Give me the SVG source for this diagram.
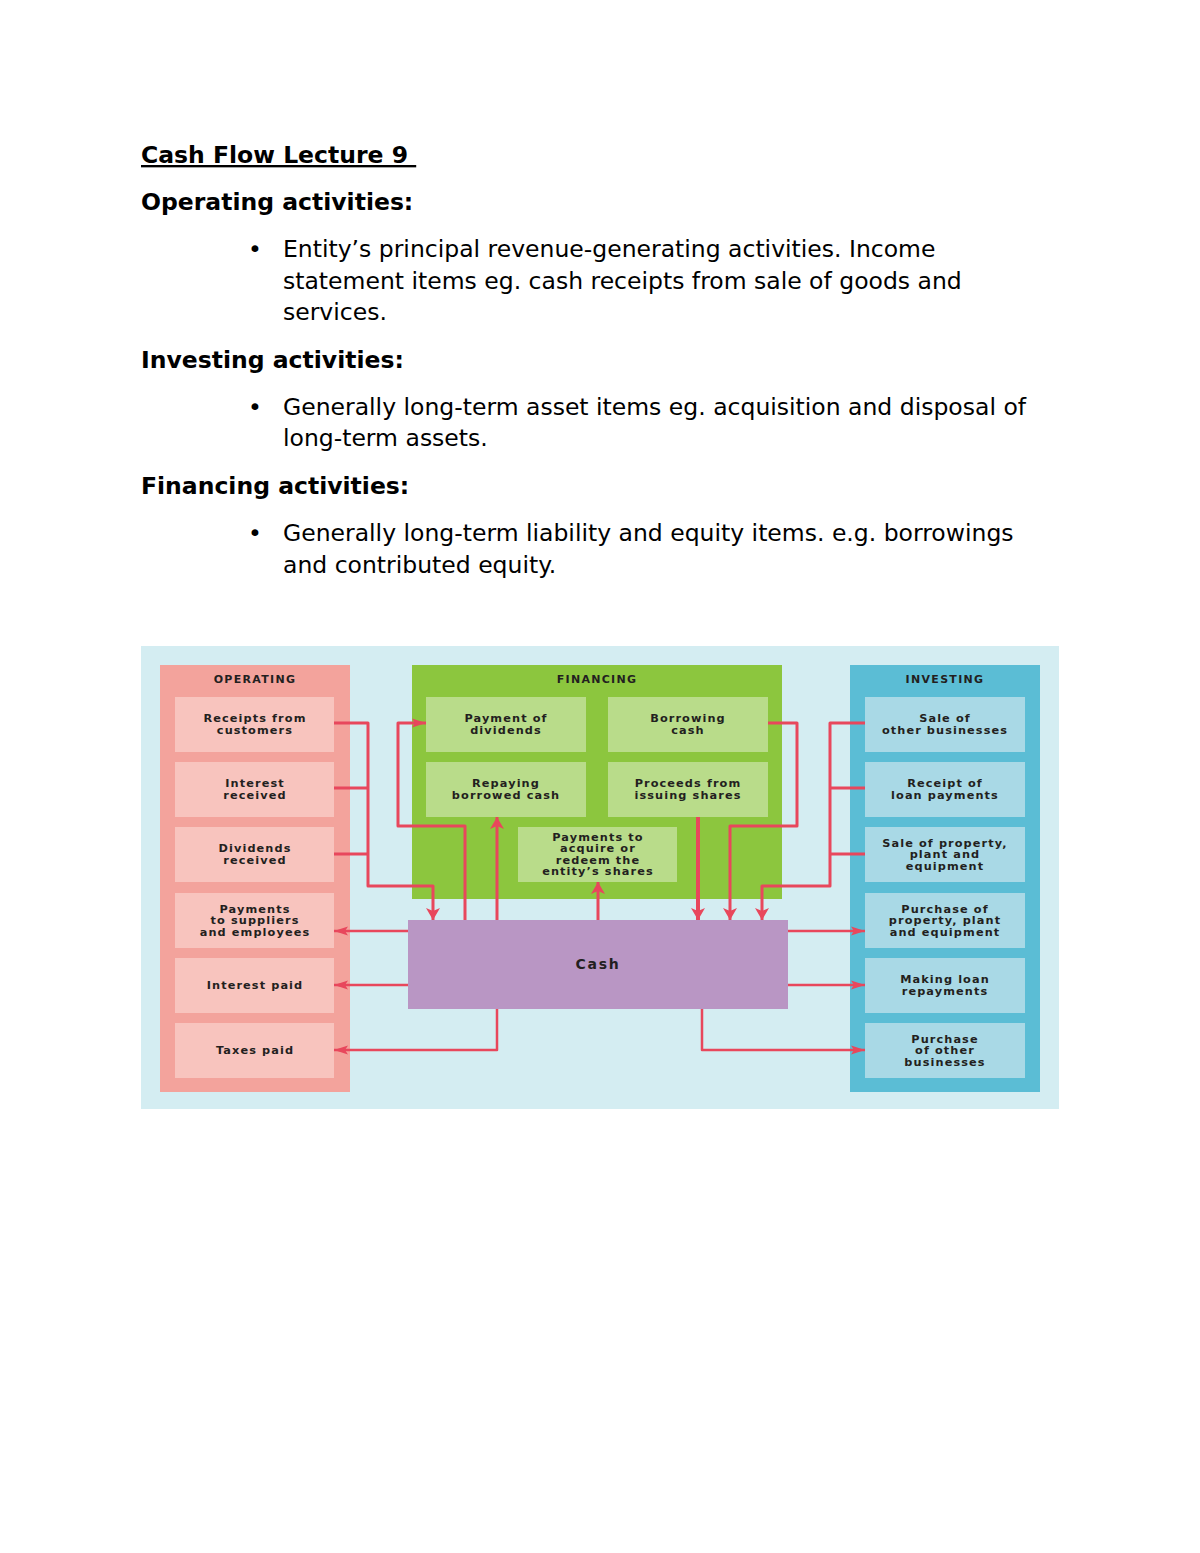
<svg xmlns="http://www.w3.org/2000/svg" width="1200" height="1553" viewBox="0 0 1200 1553">
<style>
.doc{font-family:"DejaVu Sans","Verdana",sans-serif;font-size:23.5px;fill:#000}
.b{font-weight:bold}
.lbl{font-family:"DejaVu Sans",sans-serif;font-weight:bold;font-size:11.3px;letter-spacing:1.1px;fill:#231f20;text-anchor:middle}
.ttl{font-family:"DejaVu Sans",sans-serif;font-weight:bold;font-size:11px;letter-spacing:1.3px;fill:#231f20;text-anchor:middle}
.cash{font-family:"DejaVu Sans",sans-serif;font-weight:bold;font-size:14px;letter-spacing:1.8px;fill:#231f20;text-anchor:middle}
.op{fill:#f8c4be}
.fi{fill:#b9dc8a}
.iv{fill:#a9d9e6}
.cn path{fill:none;stroke:#e8475c;stroke-width:3;stroke-linejoin:round}
.cn path.t{stroke-width:2.5}
</style>
<defs>
<marker id="a" markerUnits="userSpaceOnUse" viewBox="0 0 16 16" markerWidth="16" markerHeight="16" refX="14" refY="8" orient="auto"><path d="M2,1 L14,8 L2,15 L5,8 z" fill="#e8475c"/></marker>
<marker id="s" markerUnits="userSpaceOnUse" viewBox="0 0 16 10" markerWidth="16" markerHeight="10" refX="15" refY="5" orient="auto"><path d="M1,0.5 L15,5 L1,9.5 L4,5 z" fill="#e8475c"/></marker>
</defs>
<rect width="1200" height="1553" fill="#fff"/>
<g id="text">
<text class="doc b" x="141" y="163" text-decoration="underline" xml:space="preserve">Cash Flow Lecture 9 </text>
<text class="doc b" x="141" y="210">Operating activities:</text>
<text class="doc" x="248" y="257">•</text>
<text class="doc" x="283" y="257">Entity’s principal revenue-generating activities. Income</text>
<text class="doc" x="283" y="288.5">statement items eg. cash receipts from sale of goods and</text>
<text class="doc" x="283" y="320">services.</text>
<text class="doc b" x="141" y="367.5">Investing activities:</text>
<text class="doc" x="248" y="414.5">•</text>
<text class="doc" x="283" y="414.5">Generally long-term asset items eg. acquisition and disposal of</text>
<text class="doc" x="283" y="446">long-term assets.</text>
<text class="doc b" x="141" y="493.5">Financing activities:</text>
<text class="doc" x="248" y="541">•</text>
<text class="doc" x="283" y="541">Generally long-term liability and equity items. e.g. borrowings</text>
<text class="doc" x="283" y="572.5">and contributed equity.</text>
</g>
<rect id="diagram-bg" x="141" y="646" width="918" height="463" fill="#d4edf2"/>
<g id="operating">
<rect x="160" y="665" width="190" height="427" fill="#f3a39c"/>
<text class="ttl" x="255" y="683">OPERATING</text>
</g>
<g id="financing">
<rect x="412" y="665" width="370" height="234" fill="#8cc63e"/>
<text class="ttl" x="597" y="683">FINANCING</text>
</g>
<g id="investing">
<rect x="850" y="665" width="190" height="427" fill="#5bbdd5"/>
<text class="ttl" x="945" y="683">INVESTING</text>
</g>
<g id="receipts-from-customers"><rect class="op" x="175" y="697" width="159" height="55"/><text class="lbl" x="255" y="722.25">Receipts from</text><text class="lbl" x="255" y="733.75">customers</text></g>
<g id="interest-received"><rect class="op" x="175" y="762" width="159" height="55"/><text class="lbl" x="255" y="787.25">Interest</text><text class="lbl" x="255" y="798.75">received</text></g>
<g id="dividends-received"><rect class="op" x="175" y="827" width="159" height="55"/><text class="lbl" x="255" y="852.25">Dividends</text><text class="lbl" x="255" y="863.75">received</text></g>
<g id="payments-suppliers"><rect class="op" x="175" y="893" width="159" height="55"/><text class="lbl" x="255" y="912.5">Payments</text><text class="lbl" x="255" y="924">to suppliers</text><text class="lbl" x="255" y="935.5">and employees</text></g>
<g id="interest-paid"><rect class="op" x="175" y="958" width="159" height="55"/><text class="lbl" x="255" y="989">Interest paid</text></g>
<g id="taxes-paid"><rect class="op" x="175" y="1023" width="159" height="55"/><text class="lbl" x="255" y="1054">Taxes paid</text></g>
<g id="payment-of-dividends"><rect class="fi" x="426" y="697" width="160" height="55"/><text class="lbl" x="506" y="722.25">Payment of</text><text class="lbl" x="506" y="733.75">dividends</text></g>
<g id="borrowing-cash"><rect class="fi" x="608" y="697" width="160" height="55"/><text class="lbl" x="688" y="722.25">Borrowing</text><text class="lbl" x="688" y="733.75">cash</text></g>
<g id="repaying-borrowed-cash"><rect class="fi" x="426" y="762" width="160" height="55"/><text class="lbl" x="506" y="787.25">Repaying</text><text class="lbl" x="506" y="798.75">borrowed cash</text></g>
<g id="proceeds-issuing-shares"><rect class="fi" x="608" y="762" width="160" height="55"/><text class="lbl" x="688" y="787.25">Proceeds from</text><text class="lbl" x="688" y="798.75">issuing shares</text></g>
<g id="payments-acquire-shares"><rect class="fi" x="518" y="827" width="159" height="55"/><text class="lbl" x="598" y="840.75">Payments to</text><text class="lbl" x="598" y="852.25">acquire or</text><text class="lbl" x="598" y="863.75">redeem the</text><text class="lbl" x="598" y="875.25">entity’s shares</text></g>
<g id="sale-other-businesses"><rect class="iv" x="865" y="697" width="160" height="55"/><text class="lbl" x="945" y="722.25">Sale of</text><text class="lbl" x="945" y="733.75">other businesses</text></g>
<g id="receipt-loan-payments"><rect class="iv" x="865" y="762" width="160" height="55"/><text class="lbl" x="945" y="787.25">Receipt of</text><text class="lbl" x="945" y="798.75">loan payments</text></g>
<g id="sale-ppe"><rect class="iv" x="865" y="827" width="160" height="55"/><text class="lbl" x="945" y="846.5">Sale of property,</text><text class="lbl" x="945" y="858">plant and</text><text class="lbl" x="945" y="869.5">equipment</text></g>
<g id="purchase-ppe"><rect class="iv" x="865" y="893" width="160" height="55"/><text class="lbl" x="945" y="912.5">Purchase of</text><text class="lbl" x="945" y="924">property, plant</text><text class="lbl" x="945" y="935.5">and equipment</text></g>
<g id="making-loan-repayments"><rect class="iv" x="865" y="958" width="160" height="55"/><text class="lbl" x="945" y="983.25">Making loan</text><text class="lbl" x="945" y="994.75">repayments</text></g>
<g id="purchase-other-businesses"><rect class="iv" x="865" y="1023" width="160" height="55"/><text class="lbl" x="945" y="1042.5">Purchase</text><text class="lbl" x="945" y="1054">of other</text><text class="lbl" x="945" y="1065.5">businesses</text></g>
<g id="cash"><rect x="408" y="920" width="380" height="89" fill="#b996c4"/><text class="cash" x="598" y="969">Cash</text></g>
<g id="connectors" class="cn">
<path d="M334,723 H368 V886 H433 V920" marker-end="url(#a)"/>
<path d="M334,788 H368"/>
<path d="M334,854 H368"/>
<path d="M465,920 V826 H398 V723 H426" marker-end="url(#s)"/>
<path d="M497,920 V817" marker-end="url(#a)"/>
<path d="M598,920 V882" marker-end="url(#a)"/>
<path d="M698,817 V920" marker-end="url(#a)" style="stroke-width:4"/>
<path d="M768,723 H797 V826 H730 V920" marker-end="url(#a)"/>
<path d="M865,723 H830 V886 H762 V920" marker-end="url(#a)"/>
<path d="M865,788 H830"/>
<path d="M865,854 H830"/>
<path class="t" d="M408,931 H334" marker-end="url(#s)"/>
<path class="t" d="M408,985 H334" marker-end="url(#s)"/>
<path class="t" d="M497,1009 V1050 H334" marker-end="url(#s)"/>
<path class="t" d="M788,931 H865" marker-end="url(#s)"/>
<path class="t" d="M788,985 H865" marker-end="url(#s)"/>
<path class="t" d="M702,1009 V1050 H865" marker-end="url(#s)"/>
</g>
</svg>
